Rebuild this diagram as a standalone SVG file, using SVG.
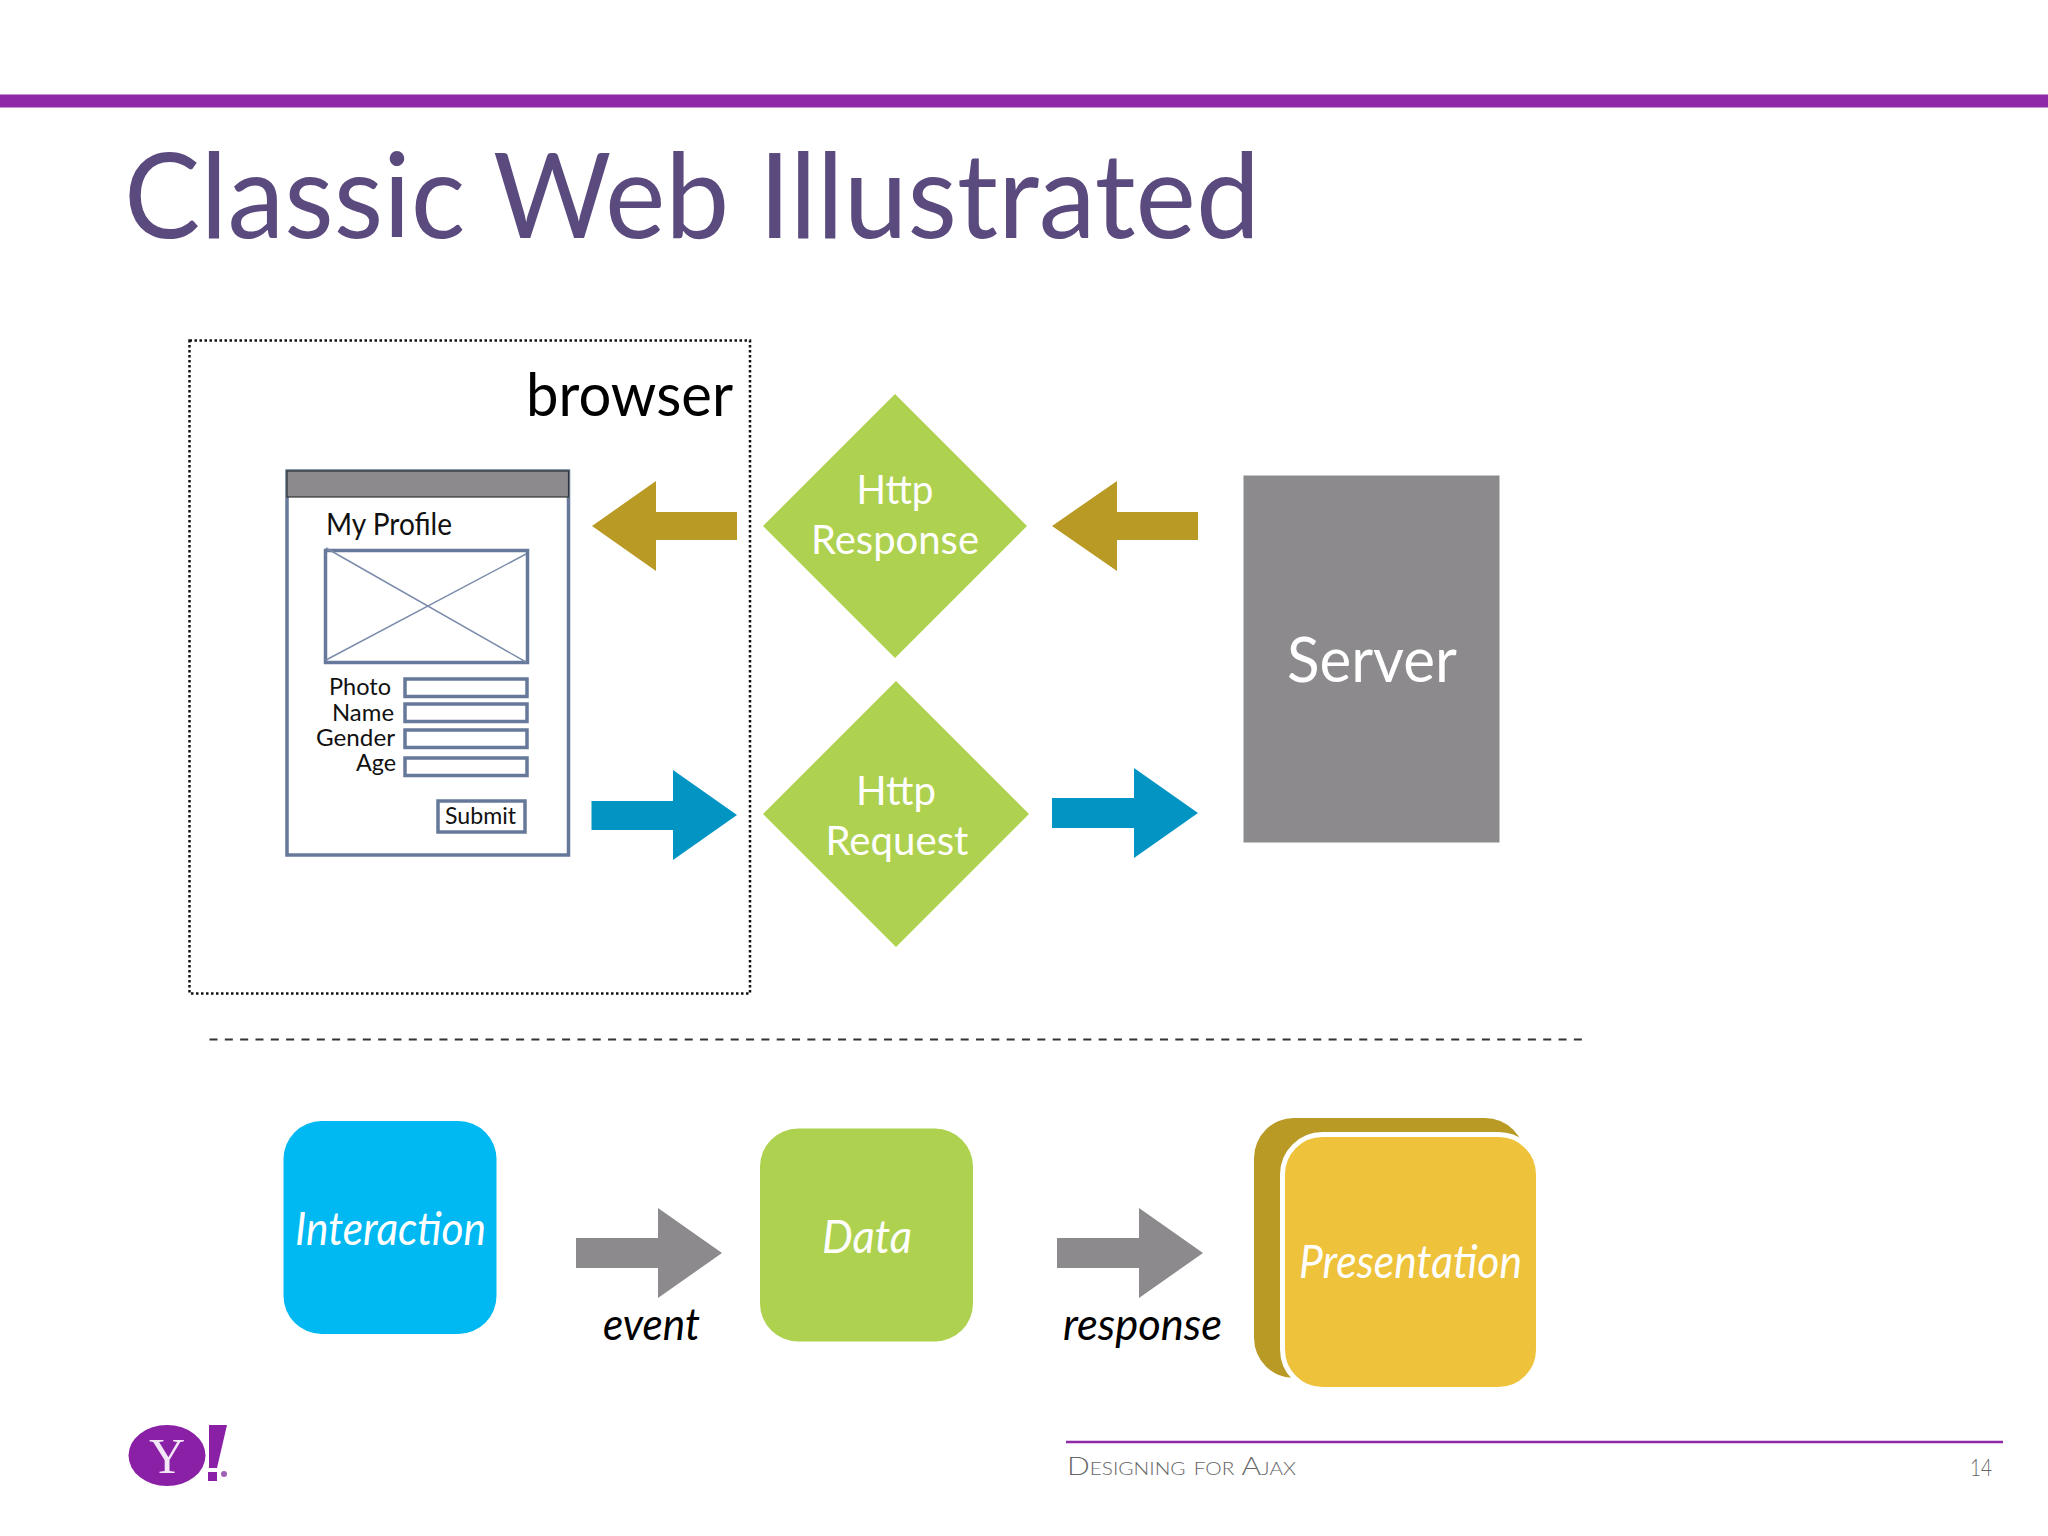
<svg xmlns="http://www.w3.org/2000/svg" width="2048" height="1536" viewBox="0 0 2048 1536">
<style>
text{font-family:"Lato","Open Sans","Liberation Sans",sans-serif;}
.wire{fill:#fff;stroke:#66799a;stroke-width:3.5;}
.lbl{font-size:24px;fill:#111;}
.white{fill:#fff;}
.mid{text-anchor:middle;}
.it{font-style:italic;font-size:46px;}
.dia{font-size:41px;fill:#fff;text-anchor:middle;}
.gold{fill:#b99a25;}
.blue{fill:#0295c4;}
.gray{fill:#8c8a8d;}
.green{fill:#aed14f;}
</style>
<rect width="2048" height="1536" fill="#fff"/>
<rect x="0" y="94.500" width="2048" height="13" fill="#8e2aa8"/>
<text id="title" x="124" y="238" font-size="118" fill="#5b4a7e" textLength="1136" lengthAdjust="spacingAndGlyphs">Classic Web Illustrated</text>

<g id="browser">
<rect x="189.500" y="340.500" width="560.500" height="653" fill="none" stroke="#111" stroke-width="2.500" stroke-dasharray="2.500 2.500"/>
<text x="526" y="416" font-size="60" fill="#000" textLength="207" lengthAdjust="spacingAndGlyphs">browser</text>
</g>

<g id="window">
<rect class="wire" x="287" y="471" width="281.500" height="384"/>
<rect x="287" y="471" width="281.500" height="26" fill="#8c8a8d" stroke="#333" stroke-width="1.200"/>
<text x="326" y="535" font-size="31" fill="#111" textLength="126" lengthAdjust="spacingAndGlyphs">My Profile</text>
<rect class="wire" x="325.500" y="550.500" width="202" height="112"/>
<path d="M326 548L526 662M326 660L526 554" fill="none" stroke="#7b8cab" stroke-width="1.500"/>
<rect class="wire" x="405" y="679" width="122" height="17.500"/>
<rect class="wire" x="405" y="704" width="122" height="17.500"/>
<rect class="wire" x="405" y="730" width="122" height="17.500"/>
<rect class="wire" x="405" y="758" width="122" height="17.500"/>
<text class="lbl" x="329" y="695" textLength="62" lengthAdjust="spacingAndGlyphs">Photo</text>
<text class="lbl" x="332" y="720.500" textLength="62" lengthAdjust="spacingAndGlyphs">Name</text>
<text class="lbl" x="316" y="746" textLength="79" lengthAdjust="spacingAndGlyphs">Gender</text>
<text class="lbl" x="356" y="771" textLength="40" lengthAdjust="spacingAndGlyphs">Age</text>
<rect class="wire" x="438" y="801" width="87" height="31"/>
<text class="lbl" x="445" y="823.500" textLength="71" lengthAdjust="spacingAndGlyphs">Submit</text>
</g>

<g id="connectors">
<polygon class="gold" points="592,526 656,481 656,512 737,512 737,540 656,540 656,571"/>
<polygon class="blue" points="591.500,801 673,801 673,770 737,815 673,860 673,830 591.500,830"/>
<polygon class="gold" points="1052,526 1117,481 1117,512 1198,512 1198,540 1117,540 1117,571"/>
<polygon class="blue" points="1052,798 1134,798 1134,768 1198,813 1134,858 1134,828 1052,828"/>
<polygon class="gray" points="576,1238 658,1238 658,1208 722,1253 658,1298 658,1268 576,1268"/>
<polygon class="gray" points="1057,1238 1139,1238 1139,1208 1203,1253 1139,1298 1139,1268 1057,1268"/>
<line x1="209.500" y1="1039.500" x2="1583" y2="1039.500" stroke="#333" stroke-width="1.800" stroke-dasharray="8 7.330"/>
<text x="603" y="1340" font-size="45" font-style="italic" fill="#000" textLength="97" lengthAdjust="spacingAndGlyphs">event</text>
<text x="1063" y="1340" font-size="45" font-style="italic" fill="#000" textLength="159" lengthAdjust="spacingAndGlyphs">response</text>
</g>

<g id="http-response">
<polygon class="green" points="763,526 895,394 1027,526 895,658"/>
<text class="dia" x="895" y="504" textLength="77" lengthAdjust="spacingAndGlyphs">Http</text>
<text class="dia" x="895" y="553.500" textLength="168" lengthAdjust="spacingAndGlyphs">Response</text>
</g>
<g id="http-request">
<polygon class="green" points="763,814 896,681 1029,814 896,947"/>
<text class="dia" x="896" y="805" textLength="80" lengthAdjust="spacingAndGlyphs">Http</text>
<text class="dia" x="897" y="855" textLength="143" lengthAdjust="spacingAndGlyphs">Request</text>
</g>
<g id="server">
<rect class="gray" x="1243.500" y="475.500" width="256" height="367"/>
<text class="white mid" x="1372" y="682" font-size="62" textLength="170" lengthAdjust="spacingAndGlyphs">Server</text>
</g>

<g id="interaction">
<rect x="283.500" y="1121" width="213" height="213" rx="38" fill="#00b9f2"/>
<text class="white it" x="295" y="1245" textLength="191" lengthAdjust="spacingAndGlyphs">Interaction</text>
</g>
<g id="data">
<rect class="green" x="760" y="1128.500" width="213" height="213" rx="38"/>
<text class="white it" x="822" y="1253" textLength="90" lengthAdjust="spacingAndGlyphs">Data</text>
</g>
<g id="presentation">
<rect class="gold" x="1254" y="1118" width="271" height="260" rx="40"/>
<rect x="1282.500" y="1134.500" width="256" height="255" rx="40" fill="#eec23a" stroke="#fff" stroke-width="5"/>
<text class="white it" x="1299" y="1278" textLength="223" lengthAdjust="spacingAndGlyphs">Presentation</text>
</g>

<g id="footer">
<line x1="1066" y1="1442" x2="2003" y2="1442" stroke="#8e2aa8" stroke-width="2.500"/>
<text x="1067" y="1475" font-size="26" fill="#666" font-weight="300" style="font-variant:small-caps" textLength="229" lengthAdjust="spacingAndGlyphs">Designing for Ajax</text>
<text x="1970" y="1476" font-size="24" fill="#666" font-weight="300" textLength="22" lengthAdjust="spacingAndGlyphs">14</text>
</g>

<g id="logo">
<ellipse cx="167" cy="1455.500" rx="38.500" ry="30.500" fill="#8a20a6"/>
<text x="167" y="1473" font-size="50" font-weight="400" fill="#f3e6f6" text-anchor="middle" style="font-family:'Liberation Serif',serif">Y</text>
<polygon points="209,1425 227,1425 217,1468 209,1468" fill="#8a20a6"/>
<rect x="208" y="1472" width="9" height="9" fill="#8a20a6"/>
<circle cx="224" cy="1474" r="3" fill="#a060b8"/>
</g>
</svg>
